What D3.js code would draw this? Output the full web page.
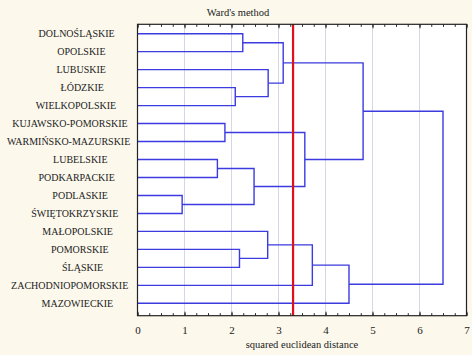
<!DOCTYPE html>
<html><head><meta charset="utf-8">
<script src="https://cdn.jsdelivr.net/npm/d3@7"></script>
<style>
html,body{margin:0;padding:0;background:#fff;}
svg{display:block;}
text{font-family:"Liberation Serif","Times New Roman",serif;fill:#222;}
</style></head>
<body>
<svg id="chart" width="474" height="355"></svg>
<script>
// ---- data ----
const leaves = ["DOLNOŚLĄSKIE","OPOLSKIE","LUBUSKIE","ŁÓDZKIE","WIELKOPOLSKIE",
  "KUJAWSKO-POMORSKIE","WARMIŃSKO-MAZURSKIE","LUBELSKIE","PODKARPACKIE","PODLASKIE",
  "ŚWIĘTOKRZYSKIE","MAŁOPOLSKIE","POMORSKIE","ŚLĄSKIE","ZACHODNIOPOMORSKIE","MAZOWIECKIE"];
// linkage: node 16+i joins mergeA[i] and mergeB[i] at mergeHeight[i]
const mergeA = [9, 7, 5, 3, 12, 0, 17, 11, 2, 21, 18, 23, 27, 25, 29];
const mergeB = [10, 8, 6, 4, 13, 1, 16, 20, 19, 24, 22, 14, 15, 26, 28];
const mergeHeight = [0.95, 1.70, 1.86, 2.08, 2.17, 2.24, 2.48, 2.77, 2.78, 3.10, 3.56, 3.72, 4.50, 4.80, 6.50];
const cutHeight = 3.31;
const xTicks = [0,1,2,3,4,5,6,7];
const titleText = "Ward's method";
const xLabel = "squared euclidean distance";

// ---- layout ----
const svg = d3.select("#chart");
const L = 137.5, R = 466.5, T = 24.3, B = 315.7;
svg.append("rect").attr("x",0).attr("y",0).attr("width",472).attr("height",355).attr("fill","#fcf8ec");
svg.append("rect").attr("x",L).attr("y",T).attr("width",R-L).attr("height",B-T).attr("fill","#fff");

const x = d3.scaleLinear().domain([0,7]).range([L,R]);
const y = d3.scalePoint().domain(leaves).range([33.7,303.3]);

// grid
svg.append("g").selectAll("line").data(xTicks.slice(1,-1)).join("line")
  .attr("x1",d=>x(d)).attr("x2",d=>x(d)).attr("y1",T).attr("y2",B)
  .attr("stroke","#d4d8e6").attr("stroke-width",1);

// node positions
const nodeX = leaves.map(()=>0);
const nodeY = leaves.map(d=>y(d));
const links = [];
mergeHeight.forEach((h,i)=>{
  const a = mergeA[i], b = mergeB[i];
  links.push({a, b, h});
  nodeX.push(h);
  nodeY.push((nodeY[a]+nodeY[b])/2);
});

svg.append("g").selectAll("path").data(links).join("path")
  .attr("d",d=>`M${x(nodeX[d.a])},${nodeY[d.a]}H${x(d.h)}V${nodeY[d.b]}H${x(nodeX[d.b])}`)
  .attr("fill","none").attr("stroke","#3b3be0").attr("stroke-width",1.4);

// cut line
svg.append("line").attr("x1",x(cutHeight)).attr("x2",x(cutHeight)).attr("y1",T).attr("y2",B)
  .attr("stroke","#e0101a").attr("stroke-width",2.2);

// axes
const minor = d3.range(0,7.001,0.25);
const axB = svg.append("g").attr("transform",`translate(0,${B})`)
  .call(d3.axisBottom(x).tickValues(xTicks).tickSize(-4).tickPadding(11).tickFormat(d3.format("d")));
const axBm = svg.append("g").attr("transform",`translate(0,${B})`)
  .call(d3.axisBottom(x).tickValues(minor).tickSize(-2.5).tickFormat(""));
const axT = svg.append("g").attr("transform",`translate(0,${T})`)
  .call(d3.axisTop(x).tickValues(xTicks).tickSize(-4).tickFormat(""));
const axTm = svg.append("g").attr("transform",`translate(0,${T})`)
  .call(d3.axisTop(x).tickValues(minor).tickSize(-2.5).tickFormat(""));
[axB,axBm,axT,axTm].forEach(g=>{
  g.select(".domain").remove();
  g.selectAll("line").attr("stroke","#222");
});
axB.selectAll("text").attr("font-size",11).attr("font-family","Liberation Serif").attr("fill","#222");

// frame
svg.append("rect").attr("x",L).attr("y",T).attr("width",R-L).attr("height",B-T)
  .attr("fill","none").attr("stroke","#222").attr("stroke-width",1.2);

// leaf labels
svg.append("g").selectAll("text").data(leaves).join("text")
  .attr("y",d=>y(d)+3.6).attr("text-anchor","middle")
  .attr("font-size",10).text(d=>d)
  .attr("x",function(){ const w=this.getComputedTextLength(); return 89.6-0.17*w; });

svg.append("text").attr("x",238).attr("y",16).attr("text-anchor","middle")
  .attr("font-size",10.5).text(titleText);
svg.append("text").attr("x",302).attr("y",348).attr("text-anchor","middle")
  .attr("font-size",10.5).text(xLabel);
</script>
</body></html>
